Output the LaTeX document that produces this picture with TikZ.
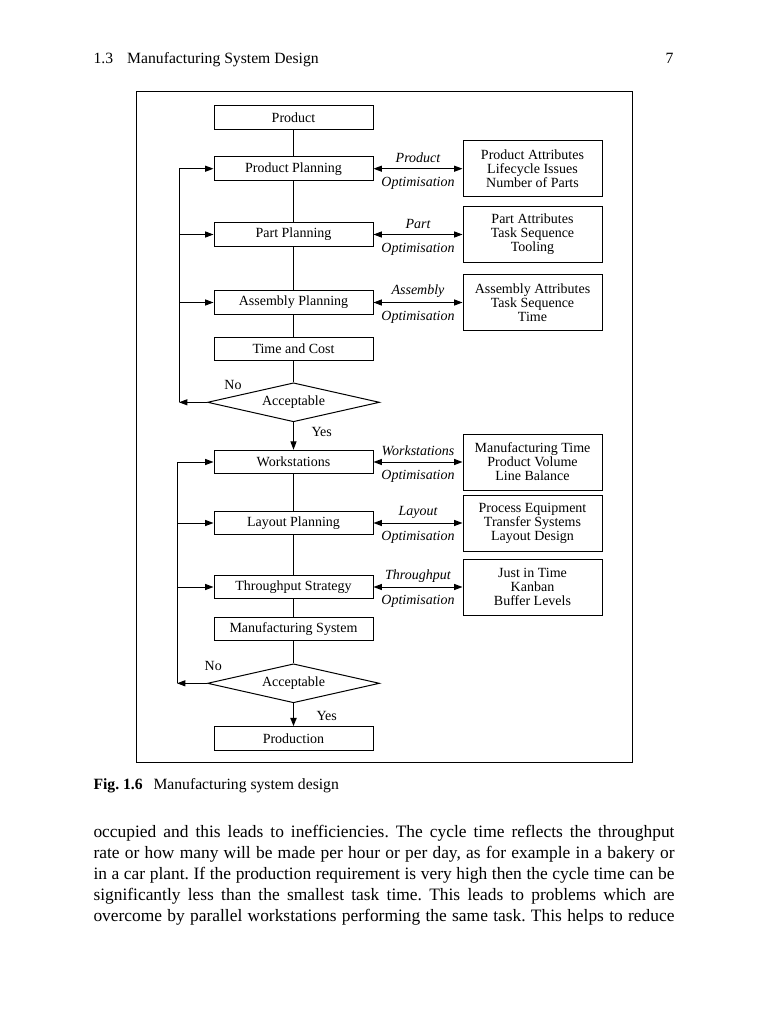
\documentclass[tikz,border=0pt]{standalone}
\usepackage{fontspec}
\setmainfont{Liberation Serif}
\usepackage{tikz}
\usetikzlibrary{positioning,calc,shapes.geometric,arrows.meta}

\newcommand{\figfont}{\fontsize{8.4}{8.4}\selectfont}
\newcommand{\capfont}{\fontsize{9.4}{11}\selectfont}
\newcommand{\bodyfont}{\fontsize{10.45}{12.6}\selectfont}
\frenchspacing

\begin{document}
\begin{tikzpicture}[x=0.6pt,y=-0.6pt,line width=0.6pt,
    stage/.style={draw,minimum width=95.4pt,minimum height=14.1pt,inner sep=0pt,font=\figfont},
    attr/.style={draw,minimum width=83.4pt,minimum height=33.6pt,inner sep=0pt,align=center,font=\figfont},
    check/.style={draw,diamond,aspect=4.4,minimum width=103.2pt,minimum height=23.4pt,inner sep=0pt,font=\figfont},
    opt/.style={font=\figfont\itshape,inner sep=0pt},
    lbl/.style={font=\figfont,inner sep=0pt},
    tip/.style={-{Triangle[length=5pt,width=3.6pt]}},
    both/.style={{Triangle[length=5pt,width=3.6pt]}-{Triangle[length=5pt,width=3.6pt]}}]
  \useasboundingbox (0,0) rectangle (768,1024);

  % page head
  \node[anchor=base west,inner sep=0pt,font=\capfont] (head) at (93,64) {1.3\hspace{8.5pt}Manufacturing System Design};
  \node[anchor=base east,inner sep=0pt,font=\capfont] (page) at (674,64) {7};

  % figure frame
  \draw (136.5,92) rectangle (632,762);

  % main column
  \node[stage] (prod) at (293.5,117.7) {Product};
  \node[stage] (pp) at (293.5,168.7) {Product Planning};
  \node[stage] (part) at (293.5,234.5) {Part Planning};
  \node[stage] (asm) at (293.5,302.5) {Assembly Planning};
  \node[stage] (tc) at (293.5,349) {Time and Cost};
  \node[check] (acc1) at (293.5,402.3) {Acceptable};
  \node[stage] (ws) at (293.5,462) {Workstations};
  \node[stage] (lp) at (293.5,523) {Layout Planning};
  \node[stage] (ts) at (293.5,587) {Throughput Strategy};
  \node[stage] (ms) at (293.5,629) {Manufacturing System};
  \node[check] (acc2) at (293.5,683.3) {Acceptable};
  \node[stage] (out) at (293.5,738.5) {Production};

  % attribute boxes
  \node[attr] (att1) at (532.5,168.7) {Product Attributes\\Lifecycle Issues\\Number of Parts};
  \node[attr] (att2) at (532.5,234.5) {Part Attributes\\Task Sequence\\Tooling};
  \node[attr] (att3) at (532.5,302.5) {Assembly Attributes\\Task Sequence\\Time};
  \node[attr] (att4) at (532.5,462) {Manufacturing Time\\Product Volume\\Line Balance};
  \node[attr] (att5) at (532.5,523) {Process Equipment\\Transfer Systems\\Layout Design};
  \node[attr] (att6) at (532.5,587) {Just in Time\\Kanban\\Buffer Levels};

  % vertical flow
  \draw (prod) -- (pp);
  \draw (pp) -- (part);
  \draw (part) -- (asm);
  \draw (asm) -- (tc);
  \draw (tc) -- (acc1);
  \draw[tip] (acc1) -- (ws);
  \draw (ws) -- (lp);
  \draw (lp) -- (ts);
  \draw (ts) -- (ms);
  \draw (ms) -- (acc2);
  \draw[tip,line width=1.1pt] (acc2) -- (out);
  \node[lbl] (yes1) at (321.7,431.7) {Yes};
  \node[lbl] (yes2) at (326.7,715.7) {Yes};
  \node[lbl] (no1) at (233,385) {No};
  \node[lbl] (no2) at (213.3,666) {No};

  % optimisation arrows
  \draw[both] (pp.east) -- (att1.west) node[opt,midway,yshift=6.6pt] (o1a) {Product} node[opt,midway,yshift=-8.8pt] (o1b) {Optimisation};
  \draw[both] (part.east) -- (att2.west) node[opt,midway,yshift=6.6pt] (o2a) {Part} node[opt,midway,yshift=-8.8pt] (o2b) {Optimisation};
  \draw[both] (asm.east) -- (att3.west) node[opt,midway,yshift=6.6pt] (o3a) {Assembly} node[opt,midway,yshift=-8.8pt] (o3b) {Optimisation};
  \draw[both] (ws.east) -- (att4.west) node[opt,midway,yshift=6.6pt] (o4a) {Workstations} node[opt,midway,yshift=-8.8pt] (o4b) {Optimisation};
  \draw[both] (lp.east) -- (att5.west) node[opt,midway,yshift=6.6pt] (o5a) {Layout} node[opt,midway,yshift=-8.8pt] (o5b) {Optimisation};
  \draw[both] (ts.east) -- (att6.west) node[opt,midway,yshift=6.6pt] (o6a) {Throughput} node[opt,midway,yshift=-8.8pt] (o6b) {Optimisation};

  % feedback loops
  \coordinate (fb1) at (179,402.3);
  \draw[tip] (acc1.west) -- (fb1);
  \draw (fb1) -- (fb1 |- pp.west);
  \draw[tip] (fb1 |- pp.west) -- (pp.west);
  \draw[tip] (fb1 |- part.west) -- (part.west);
  \draw[tip] (fb1 |- asm.west) -- (asm.west);
  \coordinate (fb2) at (177,683.3);
  \draw[tip] (acc2.west) -- (fb2);
  \draw (fb2) -- (fb2 |- ws.west);
  \draw[tip] (fb2 |- ws.west) -- (ws.west);
  \draw[tip] (fb2 |- lp.west) -- (lp.west);
  \draw[tip] (fb2 |- ts.west) -- (ts.west);

  % caption and text
  \node[anchor=base west,inner sep=0pt,font=\capfont] (cap) at (93,789) {\textbf{Fig. 1.6}\hspace{6.5pt}Manufacturing system design};
  \node[anchor=north west,inner sep=0pt,text width=348.6pt,align=justify,font=\bodyfont] (body) at (93,825)
    {\hyphenpenalty=10000\parfillskip=0pt occupied and this leads to inefficiencies. The cycle time reflects the throughput\linebreak
     rate or how many will be made per hour or per day, as for example in a bakery or\linebreak
     in a car plant. If the production requirement is very high then the cycle time can be\linebreak
     significantly less than the smallest task time. This leads to problems which are\linebreak
     overcome by parallel workstations performing the same task. This helps to reduce\par};
\end{tikzpicture}
\end{document}
